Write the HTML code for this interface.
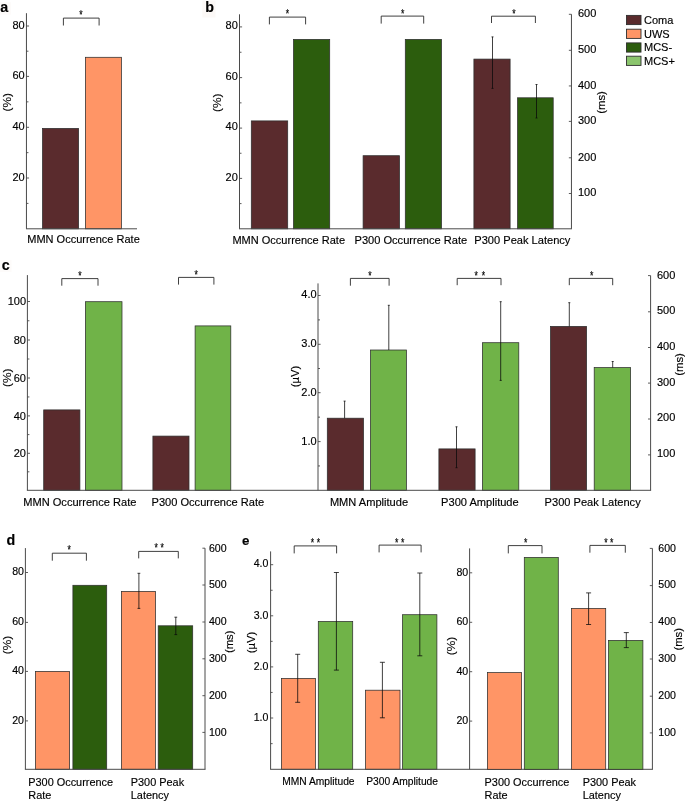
<!DOCTYPE html>
<html><head><meta charset="utf-8"><title>Figure</title>
<style>
html,body{margin:0;padding:0;background:#fff;}
svg{display:block;font-family:"Liberation Sans",Arial,sans-serif;}
text{fill:#000;stroke:#000;stroke-width:0.15px;}
</style></head><body>
<svg width="685" height="802" viewBox="0 0 685 802">
<rect width="685" height="802" fill="#ffffff"/>
<rect x="0" y="2.3" width="11" height="12.3" fill="#fdfbfa"/>
<text x="0.30" y="12.00" font-size="14.3" font-weight="bold">a</text>
<rect x="42.50" y="128.40" width="36.10" height="100.40" fill="#5a2b2d" stroke="#2e2e2e" stroke-width="0.75"/>
<rect x="85.40" y="57.30" width="36.00" height="171.50" fill="#ff9566" stroke="#2e2e2e" stroke-width="0.75"/>
<line x1="26.45" y1="13.20" x2="26.45" y2="228.80" stroke="#4a4a4a" stroke-width="1"/>
<line x1="26.45" y1="26.00" x2="29.05" y2="26.00" stroke="#4a4a4a" stroke-width="0.9"/>
<text x="24.70" y="29.00" font-size="11" text-anchor="end">80</text>
<line x1="26.45" y1="76.40" x2="29.05" y2="76.40" stroke="#4a4a4a" stroke-width="0.9"/>
<text x="24.70" y="79.00" font-size="11" text-anchor="end">60</text>
<line x1="26.45" y1="127.30" x2="29.05" y2="127.30" stroke="#4a4a4a" stroke-width="0.9"/>
<text x="24.70" y="130.00" font-size="11" text-anchor="end">40</text>
<line x1="26.45" y1="178.00" x2="29.05" y2="178.00" stroke="#4a4a4a" stroke-width="0.9"/>
<text x="24.70" y="181.00" font-size="11" text-anchor="end">20</text>
<line x1="26.45" y1="51.20" x2="28.45" y2="51.20" stroke="#4a4a4a" stroke-width="0.9"/>
<line x1="26.45" y1="101.85" x2="28.45" y2="101.85" stroke="#4a4a4a" stroke-width="0.9"/>
<line x1="26.45" y1="152.65" x2="28.45" y2="152.65" stroke="#4a4a4a" stroke-width="0.9"/>
<line x1="26.45" y1="203.40" x2="28.45" y2="203.40" stroke="#4a4a4a" stroke-width="0.9"/>
<line x1="26.00" y1="228.80" x2="137.00" y2="228.80" stroke="#4a4a4a" stroke-width="1"/>
<polyline points="63.40,25.50 63.40,18.10 99.10,18.10 99.10,25.50" fill="none" stroke="#2a2a2a" stroke-width="0.9"/>
<text transform="translate(81.00 19) scale(0.72 1)" font-size="12" text-anchor="middle">*</text>
<text x="27.30" y="243.00" font-size="11">MMN Occurrence Rate</text>
<text x="7.40" y="102.30" font-size="11.8" text-anchor="middle" transform="rotate(-90 7.40 102.30)" dy="3.9">(%)</text>
<rect x="202.3" y="0.5" width="13.2" height="17" fill="#fcf9f7"/>
<text x="205.20" y="12.00" font-size="14.3" font-weight="bold">b</text>
<rect x="251.30" y="120.90" width="36.40" height="107.90" fill="#5a2b2d" stroke="#2e2e2e" stroke-width="0.75"/>
<rect x="293.50" y="39.40" width="36.20" height="189.40" fill="#2c5d0d" stroke="#2e2e2e" stroke-width="0.75"/>
<rect x="363.10" y="155.70" width="36.40" height="73.10" fill="#5a2b2d" stroke="#2e2e2e" stroke-width="0.75"/>
<rect x="405.30" y="39.40" width="36.20" height="189.40" fill="#2c5d0d" stroke="#2e2e2e" stroke-width="0.75"/>
<rect x="473.90" y="59.10" width="36.20" height="169.70" fill="#5a2b2d" stroke="#2e2e2e" stroke-width="0.75"/>
<line x1="492.50" y1="36.90" x2="492.50" y2="88.40" stroke="#0a0a0a" stroke-width="0.78"/>
<line x1="491.50" y1="36.90" x2="493.50" y2="36.90" stroke="#0a0a0a" stroke-width="0.78"/>
<line x1="491.50" y1="88.40" x2="493.50" y2="88.40" stroke="#0a0a0a" stroke-width="0.78"/>
<rect x="517.60" y="97.80" width="35.60" height="131.00" fill="#2c5d0d" stroke="#2e2e2e" stroke-width="0.75"/>
<line x1="536.50" y1="84.50" x2="536.50" y2="118.00" stroke="#0a0a0a" stroke-width="0.78"/>
<line x1="535.50" y1="84.50" x2="537.50" y2="84.50" stroke="#0a0a0a" stroke-width="0.78"/>
<line x1="535.50" y1="118.00" x2="537.50" y2="118.00" stroke="#0a0a0a" stroke-width="0.78"/>
<line x1="239.50" y1="14.30" x2="239.50" y2="228.80" stroke="#4a4a4a" stroke-width="1"/>
<line x1="239.50" y1="26.90" x2="242.10" y2="26.90" stroke="#4a4a4a" stroke-width="0.9"/>
<text x="237.80" y="29.00" font-size="11" text-anchor="end">80</text>
<line x1="239.50" y1="77.60" x2="242.10" y2="77.60" stroke="#4a4a4a" stroke-width="0.9"/>
<text x="237.80" y="80.00" font-size="11" text-anchor="end">60</text>
<line x1="239.50" y1="128.10" x2="242.10" y2="128.10" stroke="#4a4a4a" stroke-width="0.9"/>
<text x="237.80" y="130.00" font-size="11" text-anchor="end">40</text>
<line x1="239.50" y1="178.40" x2="242.10" y2="178.40" stroke="#4a4a4a" stroke-width="0.9"/>
<text x="237.80" y="181.00" font-size="11" text-anchor="end">20</text>
<line x1="239.50" y1="52.25" x2="241.50" y2="52.25" stroke="#4a4a4a" stroke-width="0.9"/>
<line x1="239.50" y1="102.85" x2="241.50" y2="102.85" stroke="#4a4a4a" stroke-width="0.9"/>
<line x1="239.50" y1="153.25" x2="241.50" y2="153.25" stroke="#4a4a4a" stroke-width="0.9"/>
<line x1="239.50" y1="203.60" x2="241.50" y2="203.60" stroke="#4a4a4a" stroke-width="0.9"/>
<line x1="239.00" y1="228.80" x2="571.95" y2="228.80" stroke="#4a4a4a" stroke-width="1"/>
<line x1="571.45" y1="14.30" x2="571.45" y2="228.80" stroke="#4a4a4a" stroke-width="1"/>
<line x1="568.85" y1="14.30" x2="571.45" y2="14.30" stroke="#4a4a4a" stroke-width="0.9"/>
<text x="578.00" y="17.00" font-size="11">600</text>
<line x1="568.85" y1="50.30" x2="571.45" y2="50.30" stroke="#4a4a4a" stroke-width="0.9"/>
<text x="578.00" y="53.00" font-size="11">500</text>
<line x1="568.85" y1="85.95" x2="571.45" y2="85.95" stroke="#4a4a4a" stroke-width="0.9"/>
<text x="578.00" y="89.00" font-size="11">400</text>
<line x1="568.85" y1="121.40" x2="571.45" y2="121.40" stroke="#4a4a4a" stroke-width="0.9"/>
<text x="578.00" y="124.00" font-size="11">300</text>
<line x1="568.85" y1="157.80" x2="571.45" y2="157.80" stroke="#4a4a4a" stroke-width="0.9"/>
<text x="578.00" y="161.00" font-size="11">200</text>
<line x1="568.85" y1="193.50" x2="571.45" y2="193.50" stroke="#4a4a4a" stroke-width="0.9"/>
<text x="578.00" y="196.00" font-size="11">100</text>
<polyline points="269.40,24.40 269.40,17.10 305.60,17.10 305.60,24.40" fill="none" stroke="#2a2a2a" stroke-width="0.9"/>
<text transform="translate(287.50 18) scale(0.72 1)" font-size="12" text-anchor="middle">*</text>
<polyline points="381.20,23.60 381.20,16.10 423.70,16.10 423.70,23.60" fill="none" stroke="#2a2a2a" stroke-width="0.9"/>
<text transform="translate(402.60 18) scale(0.72 1)" font-size="12" text-anchor="middle">*</text>
<polyline points="491.50,23.00 491.50,16.20 535.40,16.20 535.40,23.00" fill="none" stroke="#2a2a2a" stroke-width="0.9"/>
<text transform="translate(514.00 18) scale(0.72 1)" font-size="12" text-anchor="middle">*</text>
<text x="232.40" y="244.40" font-size="11.03">MMN Occurrence Rate</text>
<text x="354.50" y="244.40" font-size="11.08">P300 Occurrence Rate</text>
<text x="474.30" y="244.40" font-size="11.08">P300 Peak Latency</text>
<text x="217.30" y="102.70" font-size="11.8" text-anchor="middle" transform="rotate(-90 217.30 102.70)" dy="3.9">(%)</text>
<text x="601.10" y="102.40" font-size="11.3" text-anchor="middle" transform="rotate(-90 601.10 102.40)" dy="3.9">(ms)</text>
<rect x="626.5" y="15.4" width="14.5" height="9.2" fill="#5a2b2d" stroke="#2e2e2e" stroke-width="0.9"/>
<text x="644.00" y="23.95" font-size="11">Coma</text>
<rect x="626.5" y="29.2" width="14.5" height="9.2" fill="#ff9566" stroke="#2e2e2e" stroke-width="0.9"/>
<text x="644.00" y="37.75" font-size="11">UWS</text>
<rect x="626.5" y="42.9" width="14.5" height="9.2" fill="#2c5d0d" stroke="#2e2e2e" stroke-width="0.9"/>
<text x="644.00" y="51.45" font-size="11">MCS-</text>
<rect x="626.5" y="56.2" width="14.5" height="9.2" fill="#8bc56d" stroke="#2e2e2e" stroke-width="0.9"/>
<text x="644.00" y="64.75" font-size="11">MCS+</text>
<rect x="0" y="260" width="11.5" height="12" fill="#fdfbfa"/>
<text x="1.70" y="270.00" font-size="14.3" font-weight="bold">c</text>
<rect x="43.70" y="409.90" width="36.20" height="80.40" fill="#5a2b2d" stroke="#2e2e2e" stroke-width="0.75"/>
<rect x="85.40" y="301.70" width="36.60" height="188.60" fill="#70b348" stroke="#2e2e2e" stroke-width="0.75"/>
<rect x="152.90" y="436.10" width="36.10" height="54.20" fill="#5a2b2d" stroke="#2e2e2e" stroke-width="0.75"/>
<rect x="195.10" y="325.90" width="35.70" height="164.40" fill="#70b348" stroke="#2e2e2e" stroke-width="0.75"/>
<line x1="27.40" y1="275.10" x2="27.40" y2="490.30" stroke="#4a4a4a" stroke-width="1"/>
<line x1="27.40" y1="301.50" x2="30.00" y2="301.50" stroke="#4a4a4a" stroke-width="0.9"/>
<text x="26.00" y="305.00" font-size="11" text-anchor="end">100</text>
<line x1="27.40" y1="340.00" x2="30.00" y2="340.00" stroke="#4a4a4a" stroke-width="0.9"/>
<text x="26.00" y="344.00" font-size="11" text-anchor="end">80</text>
<line x1="27.40" y1="378.00" x2="30.00" y2="378.00" stroke="#4a4a4a" stroke-width="0.9"/>
<text x="26.00" y="382.00" font-size="11" text-anchor="end">60</text>
<line x1="27.40" y1="415.90" x2="30.00" y2="415.90" stroke="#4a4a4a" stroke-width="0.9"/>
<text x="26.00" y="420.00" font-size="11" text-anchor="end">40</text>
<line x1="27.40" y1="453.30" x2="30.00" y2="453.30" stroke="#4a4a4a" stroke-width="0.9"/>
<text x="26.00" y="457.00" font-size="11" text-anchor="end">20</text>
<line x1="27.40" y1="320.75" x2="29.40" y2="320.75" stroke="#4a4a4a" stroke-width="0.9"/>
<line x1="27.40" y1="359.00" x2="29.40" y2="359.00" stroke="#4a4a4a" stroke-width="0.9"/>
<line x1="27.40" y1="396.95" x2="29.40" y2="396.95" stroke="#4a4a4a" stroke-width="0.9"/>
<line x1="27.40" y1="434.60" x2="29.40" y2="434.60" stroke="#4a4a4a" stroke-width="0.9"/>
<line x1="27.40" y1="471.80" x2="29.40" y2="471.80" stroke="#4a4a4a" stroke-width="0.9"/>
<polyline points="61.80,285.70 61.80,278.60 98.00,278.60 98.00,285.70" fill="none" stroke="#2a2a2a" stroke-width="0.9"/>
<text transform="translate(79.90 280) scale(0.72 1)" font-size="12" text-anchor="middle">*</text>
<polyline points="178.50,284.60 178.50,277.40 213.90,277.40 213.90,284.60" fill="none" stroke="#2a2a2a" stroke-width="0.9"/>
<text transform="translate(196.30 279) scale(0.72 1)" font-size="12" text-anchor="middle">*</text>
<text x="23.20" y="505.70" font-size="11.08">MMN Occurrence Rate</text>
<text x="151.50" y="505.70" font-size="11.08">P300 Occurrence Rate</text>
<text x="7.30" y="377.80" font-size="11.8" text-anchor="middle" transform="rotate(-90 7.30 377.80)" dy="3.9">(%)</text>
<rect x="327.30" y="418.20" width="36.20" height="72.10" fill="#5a2b2d" stroke="#2e2e2e" stroke-width="0.75"/>
<line x1="344.60" y1="401.10" x2="344.60" y2="418.20" stroke="#0a0a0a" stroke-width="0.78"/>
<line x1="343.60" y1="401.10" x2="345.60" y2="401.10" stroke="#0a0a0a" stroke-width="0.78"/>
<rect x="370.50" y="350.00" width="35.90" height="140.30" fill="#70b348" stroke="#2e2e2e" stroke-width="0.75"/>
<line x1="388.80" y1="305.30" x2="388.80" y2="350.00" stroke="#0a0a0a" stroke-width="0.78"/>
<line x1="387.80" y1="305.30" x2="389.80" y2="305.30" stroke="#0a0a0a" stroke-width="0.78"/>
<rect x="438.90" y="448.90" width="36.20" height="41.40" fill="#5a2b2d" stroke="#2e2e2e" stroke-width="0.75"/>
<line x1="456.50" y1="426.80" x2="456.50" y2="467.70" stroke="#0a0a0a" stroke-width="0.78"/>
<line x1="455.50" y1="426.80" x2="457.50" y2="426.80" stroke="#0a0a0a" stroke-width="0.78"/>
<line x1="455.50" y1="467.70" x2="457.50" y2="467.70" stroke="#0a0a0a" stroke-width="0.78"/>
<rect x="482.40" y="342.70" width="36.40" height="147.60" fill="#70b348" stroke="#2e2e2e" stroke-width="0.75"/>
<line x1="500.70" y1="301.70" x2="500.70" y2="380.40" stroke="#0a0a0a" stroke-width="0.78"/>
<line x1="499.70" y1="301.70" x2="501.70" y2="301.70" stroke="#0a0a0a" stroke-width="0.78"/>
<line x1="499.70" y1="380.40" x2="501.70" y2="380.40" stroke="#0a0a0a" stroke-width="0.78"/>
<rect x="550.50" y="326.40" width="36.10" height="163.90" fill="#5a2b2d" stroke="#2e2e2e" stroke-width="0.75"/>
<line x1="569.30" y1="302.70" x2="569.30" y2="326.40" stroke="#0a0a0a" stroke-width="0.78"/>
<line x1="568.30" y1="302.70" x2="570.30" y2="302.70" stroke="#0a0a0a" stroke-width="0.78"/>
<rect x="594.20" y="367.60" width="36.40" height="122.70" fill="#70b348" stroke="#2e2e2e" stroke-width="0.75"/>
<line x1="612.70" y1="361.50" x2="612.70" y2="367.60" stroke="#0a0a0a" stroke-width="0.78"/>
<line x1="611.70" y1="361.50" x2="613.70" y2="361.50" stroke="#0a0a0a" stroke-width="0.78"/>
<line x1="318.00" y1="283.40" x2="318.00" y2="490.30" stroke="#4a4a4a" stroke-width="1"/>
<line x1="318.00" y1="295.50" x2="320.60" y2="295.50" stroke="#4a4a4a" stroke-width="0.9"/>
<text x="316.60" y="298.00" font-size="11" text-anchor="end">4.0</text>
<line x1="318.00" y1="344.30" x2="320.60" y2="344.30" stroke="#4a4a4a" stroke-width="0.9"/>
<text x="316.60" y="347.00" font-size="11" text-anchor="end">3.0</text>
<line x1="318.00" y1="392.70" x2="320.60" y2="392.70" stroke="#4a4a4a" stroke-width="0.9"/>
<text x="316.60" y="396.00" font-size="11" text-anchor="end">2.0</text>
<line x1="318.00" y1="441.60" x2="320.60" y2="441.60" stroke="#4a4a4a" stroke-width="0.9"/>
<text x="316.60" y="445.00" font-size="11" text-anchor="end">1.0</text>
<line x1="318.00" y1="319.90" x2="320.00" y2="319.90" stroke="#4a4a4a" stroke-width="0.9"/>
<line x1="318.00" y1="368.50" x2="320.00" y2="368.50" stroke="#4a4a4a" stroke-width="0.9"/>
<line x1="318.00" y1="417.15" x2="320.00" y2="417.15" stroke="#4a4a4a" stroke-width="0.9"/>
<line x1="318.00" y1="465.95" x2="320.00" y2="465.95" stroke="#4a4a4a" stroke-width="0.9"/>
<line x1="26.90" y1="490.30" x2="651.10" y2="490.30" stroke="#4a4a4a" stroke-width="1"/>
<line x1="650.60" y1="275.60" x2="650.60" y2="490.30" stroke="#4a4a4a" stroke-width="1"/>
<line x1="648.00" y1="275.60" x2="650.60" y2="275.60" stroke="#4a4a4a" stroke-width="0.9"/>
<text x="657.00" y="279.00" font-size="11">600</text>
<line x1="648.00" y1="311.80" x2="650.60" y2="311.80" stroke="#4a4a4a" stroke-width="0.9"/>
<text x="657.00" y="314.00" font-size="11">500</text>
<line x1="648.00" y1="347.50" x2="650.60" y2="347.50" stroke="#4a4a4a" stroke-width="0.9"/>
<text x="657.00" y="350.00" font-size="11">400</text>
<line x1="648.00" y1="383.10" x2="650.60" y2="383.10" stroke="#4a4a4a" stroke-width="0.9"/>
<text x="657.00" y="386.00" font-size="11">300</text>
<line x1="648.00" y1="419.00" x2="650.60" y2="419.00" stroke="#4a4a4a" stroke-width="0.9"/>
<text x="657.00" y="421.00" font-size="11">200</text>
<line x1="648.00" y1="454.90" x2="650.60" y2="454.90" stroke="#4a4a4a" stroke-width="0.9"/>
<text x="657.00" y="457.00" font-size="11">100</text>
<polyline points="350.40,285.70 350.40,278.40 389.10,278.40 389.10,285.70" fill="none" stroke="#2a2a2a" stroke-width="0.9"/>
<text transform="translate(370.00 280) scale(0.72 1)" font-size="12" text-anchor="middle">*</text>
<polyline points="457.20,285.20 457.20,278.40 501.00,278.40 501.00,285.20" fill="none" stroke="#2a2a2a" stroke-width="0.9"/>
<text transform="translate(476.30 280) scale(0.72 1)" font-size="12" text-anchor="middle">*</text>
<text transform="translate(483.40 280) scale(0.72 1)" font-size="12" text-anchor="middle">*</text>
<polyline points="569.30,285.20 569.30,278.40 612.70,278.40 612.70,285.20" fill="none" stroke="#2a2a2a" stroke-width="0.9"/>
<text transform="translate(591.60 280) scale(0.72 1)" font-size="12" text-anchor="middle">*</text>
<text x="329.90" y="505.70" font-size="11.08">MMN Amplitude</text>
<text x="441.10" y="505.70" font-size="11.08">P300 Amplitude</text>
<text x="544.60" y="505.70" font-size="11.08">P300 Peak Latency</text>
<text x="295.40" y="376.50" font-size="11.3" text-anchor="middle" transform="rotate(-90 295.40 376.50)" dy="3.9">(µV)</text>
<text x="678.80" y="364.40" font-size="11.3" text-anchor="middle" transform="rotate(-90 678.80 364.40)" dy="3.9">(ms)</text>
<text x="6.60" y="545.00" font-size="14.3" font-weight="bold">d</text>
<rect x="35.40" y="671.40" width="34.20" height="97.90" fill="#ff9566" stroke="#2e2e2e" stroke-width="0.75"/>
<rect x="72.90" y="585.30" width="33.80" height="184.00" fill="#2c5d0d" stroke="#2e2e2e" stroke-width="0.75"/>
<rect x="121.40" y="591.40" width="34.10" height="177.90" fill="#ff9566" stroke="#2e2e2e" stroke-width="0.75"/>
<line x1="138.90" y1="573.30" x2="138.90" y2="608.40" stroke="#0a0a0a" stroke-width="0.78"/>
<line x1="137.50" y1="573.30" x2="140.30" y2="573.30" stroke="#0a0a0a" stroke-width="0.78"/>
<line x1="137.50" y1="608.40" x2="140.30" y2="608.40" stroke="#0a0a0a" stroke-width="0.78"/>
<rect x="158.20" y="625.80" width="34.50" height="143.50" fill="#2c5d0d" stroke="#2e2e2e" stroke-width="0.75"/>
<line x1="175.80" y1="617.20" x2="175.80" y2="634.60" stroke="#0a0a0a" stroke-width="0.78"/>
<line x1="174.40" y1="617.20" x2="177.20" y2="617.20" stroke="#0a0a0a" stroke-width="0.78"/>
<line x1="174.40" y1="634.60" x2="177.20" y2="634.60" stroke="#0a0a0a" stroke-width="0.78"/>
<line x1="25.40" y1="548.10" x2="25.40" y2="769.30" stroke="#4a4a4a" stroke-width="1"/>
<line x1="25.40" y1="572.50" x2="28.00" y2="572.50" stroke="#4a4a4a" stroke-width="0.9"/>
<text x="24.00" y="575.00" font-size="10.6" text-anchor="end">80</text>
<line x1="25.40" y1="622.40" x2="28.00" y2="622.40" stroke="#4a4a4a" stroke-width="0.9"/>
<text x="24.00" y="625.00" font-size="10.6" text-anchor="end">60</text>
<line x1="25.40" y1="671.40" x2="28.00" y2="671.40" stroke="#4a4a4a" stroke-width="0.9"/>
<text x="24.00" y="674.00" font-size="10.6" text-anchor="end">40</text>
<line x1="25.40" y1="720.90" x2="28.00" y2="720.90" stroke="#4a4a4a" stroke-width="0.9"/>
<text x="24.00" y="724.00" font-size="10.6" text-anchor="end">20</text>
<line x1="24.90" y1="769.30" x2="205.50" y2="769.30" stroke="#4a4a4a" stroke-width="1"/>
<line x1="205.00" y1="548.20" x2="205.00" y2="769.30" stroke="#4a4a4a" stroke-width="1"/>
<line x1="202.40" y1="548.20" x2="205.00" y2="548.20" stroke="#4a4a4a" stroke-width="0.9"/>
<text x="208.90" y="552.00" font-size="10.6">600</text>
<line x1="202.40" y1="585.00" x2="205.00" y2="585.00" stroke="#4a4a4a" stroke-width="0.9"/>
<text x="208.90" y="588.00" font-size="10.6">500</text>
<line x1="202.40" y1="622.00" x2="205.00" y2="622.00" stroke="#4a4a4a" stroke-width="0.9"/>
<text x="208.90" y="625.00" font-size="10.6">400</text>
<line x1="202.40" y1="658.80" x2="205.00" y2="658.80" stroke="#4a4a4a" stroke-width="0.9"/>
<text x="208.90" y="662.00" font-size="10.6">300</text>
<line x1="202.40" y1="695.70" x2="205.00" y2="695.70" stroke="#4a4a4a" stroke-width="0.9"/>
<text x="208.90" y="699.00" font-size="10.6">200</text>
<line x1="202.40" y1="732.40" x2="205.00" y2="732.40" stroke="#4a4a4a" stroke-width="0.9"/>
<text x="208.90" y="736.00" font-size="10.6">100</text>
<polyline points="52.30,560.70 52.30,553.20 86.40,553.20 86.40,560.70" fill="none" stroke="#2a2a2a" stroke-width="0.9"/>
<text transform="translate(69.30 554) scale(0.72 1)" font-size="12" text-anchor="middle">*</text>
<polyline points="138.70,558.40 138.70,551.40 178.30,551.40 178.30,558.40" fill="none" stroke="#2a2a2a" stroke-width="0.9"/>
<text transform="translate(156.20 552) scale(0.72 1)" font-size="12" text-anchor="middle">*</text>
<text transform="translate(162.20 552) scale(0.72 1)" font-size="12" text-anchor="middle">*</text>
<text x="28.30" y="786.00" font-size="10.9">P300 Occurrence</text>
<text x="28.30" y="799.00" font-size="10.9">Rate</text>
<text x="130.80" y="786.00" font-size="10.9">P300 Peak</text>
<text x="130.80" y="799.00" font-size="10.9">Latency</text>
<text x="7.30" y="645.00" font-size="11.8" text-anchor="middle" transform="rotate(-90 7.30 645.00)" dy="3.9">(%)</text>
<text x="229.30" y="641.80" font-size="11.3" text-anchor="middle" transform="rotate(-90 229.30 641.80)" dy="3.9">(ms)</text>
<text x="242.10" y="545.00" font-size="13.3" font-weight="bold">e</text>
<rect x="281.40" y="678.40" width="34.10" height="90.90" fill="#ff9566" stroke="#2e2e2e" stroke-width="0.75"/>
<line x1="297.70" y1="654.30" x2="297.70" y2="702.30" stroke="#0a0a0a" stroke-width="0.78"/>
<line x1="295.20" y1="654.30" x2="300.20" y2="654.30" stroke="#0a0a0a" stroke-width="0.78"/>
<line x1="295.20" y1="702.30" x2="300.20" y2="702.30" stroke="#0a0a0a" stroke-width="0.78"/>
<rect x="318.30" y="621.50" width="34.40" height="147.80" fill="#70b348" stroke="#2e2e2e" stroke-width="0.75"/>
<line x1="336.40" y1="572.50" x2="336.40" y2="670.10" stroke="#0a0a0a" stroke-width="0.78"/>
<line x1="333.90" y1="572.50" x2="338.90" y2="572.50" stroke="#0a0a0a" stroke-width="0.78"/>
<line x1="333.90" y1="670.10" x2="338.90" y2="670.10" stroke="#0a0a0a" stroke-width="0.78"/>
<rect x="365.50" y="690.20" width="34.50" height="79.10" fill="#ff9566" stroke="#2e2e2e" stroke-width="0.75"/>
<line x1="382.40" y1="662.30" x2="382.40" y2="717.80" stroke="#0a0a0a" stroke-width="0.78"/>
<line x1="379.90" y1="662.30" x2="384.90" y2="662.30" stroke="#0a0a0a" stroke-width="0.78"/>
<line x1="379.90" y1="717.80" x2="384.90" y2="717.80" stroke="#0a0a0a" stroke-width="0.78"/>
<rect x="402.50" y="614.70" width="34.40" height="154.60" fill="#70b348" stroke="#2e2e2e" stroke-width="0.75"/>
<line x1="419.80" y1="573.00" x2="419.80" y2="655.80" stroke="#0a0a0a" stroke-width="0.78"/>
<line x1="417.30" y1="573.00" x2="422.30" y2="573.00" stroke="#0a0a0a" stroke-width="0.78"/>
<line x1="417.30" y1="655.80" x2="422.30" y2="655.80" stroke="#0a0a0a" stroke-width="0.78"/>
<line x1="270.60" y1="551.40" x2="270.60" y2="769.30" stroke="#4a4a4a" stroke-width="1"/>
<line x1="270.60" y1="564.70" x2="273.20" y2="564.70" stroke="#4a4a4a" stroke-width="0.9"/>
<text x="268.40" y="567.00" font-size="10.6" text-anchor="end">4.0</text>
<line x1="270.60" y1="615.80" x2="273.20" y2="615.80" stroke="#4a4a4a" stroke-width="0.9"/>
<text x="268.40" y="619.00" font-size="10.6" text-anchor="end">3.0</text>
<line x1="270.60" y1="666.90" x2="273.20" y2="666.90" stroke="#4a4a4a" stroke-width="0.9"/>
<text x="268.40" y="670.00" font-size="10.6" text-anchor="end">2.0</text>
<line x1="270.60" y1="718.00" x2="273.20" y2="718.00" stroke="#4a4a4a" stroke-width="0.9"/>
<text x="268.40" y="721.00" font-size="10.6" text-anchor="end">1.0</text>
<line x1="270.60" y1="590.25" x2="272.60" y2="590.25" stroke="#4a4a4a" stroke-width="0.9"/>
<line x1="270.60" y1="641.35" x2="272.60" y2="641.35" stroke="#4a4a4a" stroke-width="0.9"/>
<line x1="270.60" y1="692.45" x2="272.60" y2="692.45" stroke="#4a4a4a" stroke-width="0.9"/>
<line x1="270.60" y1="743.65" x2="272.60" y2="743.65" stroke="#4a4a4a" stroke-width="0.9"/>
<line x1="270.20" y1="769.30" x2="652.90" y2="769.30" stroke="#4a4a4a" stroke-width="1"/>
<rect x="487.40" y="672.60" width="34.20" height="96.70" fill="#ff9566" stroke="#2e2e2e" stroke-width="0.75"/>
<rect x="524.30" y="557.40" width="34.00" height="211.90" fill="#70b348" stroke="#2e2e2e" stroke-width="0.75"/>
<rect x="571.50" y="608.40" width="34.20" height="160.90" fill="#ff9566" stroke="#2e2e2e" stroke-width="0.75"/>
<line x1="588.60" y1="592.90" x2="588.60" y2="624.50" stroke="#0a0a0a" stroke-width="0.78"/>
<line x1="586.10" y1="592.90" x2="591.10" y2="592.90" stroke="#0a0a0a" stroke-width="0.78"/>
<line x1="586.10" y1="624.50" x2="591.10" y2="624.50" stroke="#0a0a0a" stroke-width="0.78"/>
<rect x="608.50" y="640.40" width="34.40" height="128.90" fill="#70b348" stroke="#2e2e2e" stroke-width="0.75"/>
<line x1="626.30" y1="632.60" x2="626.30" y2="647.60" stroke="#0a0a0a" stroke-width="0.78"/>
<line x1="623.80" y1="632.60" x2="628.80" y2="632.60" stroke="#0a0a0a" stroke-width="0.78"/>
<line x1="623.80" y1="647.60" x2="628.80" y2="647.60" stroke="#0a0a0a" stroke-width="0.78"/>
<line x1="469.60" y1="548.40" x2="469.60" y2="769.30" stroke="#4a4a4a" stroke-width="1"/>
<line x1="469.60" y1="572.80" x2="472.20" y2="572.80" stroke="#4a4a4a" stroke-width="0.9"/>
<text x="468.20" y="576.00" font-size="10.6" text-anchor="end">80</text>
<line x1="469.60" y1="622.30" x2="472.20" y2="622.30" stroke="#4a4a4a" stroke-width="0.9"/>
<text x="468.20" y="625.00" font-size="10.6" text-anchor="end">60</text>
<line x1="469.60" y1="671.70" x2="472.20" y2="671.70" stroke="#4a4a4a" stroke-width="0.9"/>
<text x="468.20" y="675.00" font-size="10.6" text-anchor="end">40</text>
<line x1="469.60" y1="721.10" x2="472.20" y2="721.10" stroke="#4a4a4a" stroke-width="0.9"/>
<text x="468.20" y="724.00" font-size="10.6" text-anchor="end">20</text>
<line x1="652.40" y1="548.40" x2="652.40" y2="769.30" stroke="#4a4a4a" stroke-width="1"/>
<line x1="649.80" y1="548.40" x2="652.40" y2="548.40" stroke="#4a4a4a" stroke-width="0.9"/>
<text x="658.30" y="552.00" font-size="10.6">600</text>
<line x1="649.80" y1="585.60" x2="652.40" y2="585.60" stroke="#4a4a4a" stroke-width="0.9"/>
<text x="658.30" y="588.00" font-size="10.6">500</text>
<line x1="649.80" y1="622.50" x2="652.40" y2="622.50" stroke="#4a4a4a" stroke-width="0.9"/>
<text x="658.30" y="625.00" font-size="10.6">400</text>
<line x1="649.80" y1="659.00" x2="652.40" y2="659.00" stroke="#4a4a4a" stroke-width="0.9"/>
<text x="658.30" y="662.00" font-size="10.6">300</text>
<line x1="649.80" y1="696.20" x2="652.40" y2="696.20" stroke="#4a4a4a" stroke-width="0.9"/>
<text x="658.30" y="699.00" font-size="10.6">200</text>
<line x1="649.80" y1="732.90" x2="652.40" y2="732.90" stroke="#4a4a4a" stroke-width="0.9"/>
<text x="658.30" y="736.00" font-size="10.6">100</text>
<polyline points="294.20,553.40 294.20,545.90 336.60,545.90 336.60,553.40" fill="none" stroke="#2a2a2a" stroke-width="0.9"/>
<text transform="translate(312.50 547) scale(0.72 1)" font-size="12" text-anchor="middle">*</text>
<text transform="translate(318.50 547) scale(0.72 1)" font-size="12" text-anchor="middle">*</text>
<polyline points="379.10,552.40 379.10,545.10 421.10,545.10 421.10,552.40" fill="none" stroke="#2a2a2a" stroke-width="0.9"/>
<text transform="translate(396.70 547) scale(0.72 1)" font-size="12" text-anchor="middle">*</text>
<text transform="translate(402.70 547) scale(0.72 1)" font-size="12" text-anchor="middle">*</text>
<polyline points="508.30,553.40 508.30,545.60 542.00,545.60 542.00,553.40" fill="none" stroke="#2a2a2a" stroke-width="0.9"/>
<text transform="translate(525.60 547) scale(0.72 1)" font-size="12" text-anchor="middle">*</text>
<polyline points="589.90,552.70 589.90,545.40 625.30,545.40 625.30,552.70" fill="none" stroke="#2a2a2a" stroke-width="0.9"/>
<text transform="translate(606.00 547) scale(0.72 1)" font-size="12" text-anchor="middle">*</text>
<text transform="translate(611.70 547) scale(0.72 1)" font-size="12" text-anchor="middle">*</text>
<text x="282.20" y="785.00" font-size="10.25">MMN Amplitude</text>
<text x="366.20" y="785.00" font-size="10.25">P300 Amplitude</text>
<text x="484.60" y="786.00" font-size="10.9">P300 Occurrence</text>
<text x="484.60" y="799.00" font-size="10.9">Rate</text>
<text x="582.70" y="786.00" font-size="10.9">P300 Peak</text>
<text x="582.70" y="799.00" font-size="10.9">Latency</text>
<text x="251.40" y="642.50" font-size="11.3" text-anchor="middle" transform="rotate(-90 251.40 642.50)" dy="3.9">(µV)</text>
<text x="451.30" y="646.10" font-size="11.8" text-anchor="middle" transform="rotate(-90 451.30 646.10)" dy="3.9">(%)</text>
<text x="677.80" y="639.30" font-size="11.3" text-anchor="middle" transform="rotate(-90 677.80 639.30)" dy="3.9">(ms)</text>
</svg>
</body></html>
